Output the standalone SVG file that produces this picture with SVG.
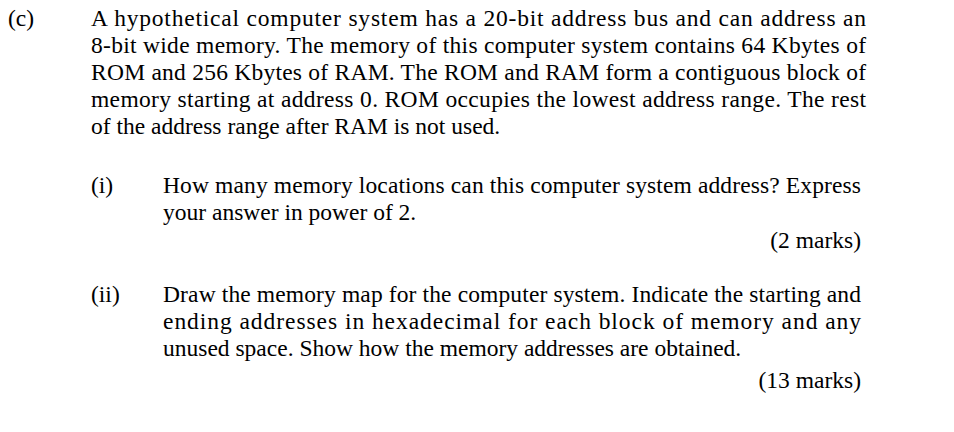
<svg xmlns="http://www.w3.org/2000/svg" width="954" height="432" viewBox="0 0 954 432">
<style>text{font-family:"Liberation Serif","Times New Roman",serif;font-size:23.5px;fill:#000}</style>
<rect width="954" height="432" fill="#fff"/>
<g id="c">
<text x="8" y="26">(c)</text>
<text x="91" y="26" textLength="775" lengthAdjust="spacing">A hypothetical computer system has a 20-bit address bus and can address an</text>
<text x="91" y="53" textLength="775" lengthAdjust="spacing">8-bit wide memory. The memory of this computer system contains 64 Kbytes of</text>
<text x="91" y="80" textLength="775" lengthAdjust="spacing">ROM and 256 Kbytes of RAM. The ROM and RAM form a contiguous block of</text>
<text x="91" y="107" textLength="775" lengthAdjust="spacing">memory starting at address 0. ROM occupies the lowest address range. The rest</text>
<text x="91" y="134">of the address range after RAM is not used.</text>
</g>
<g id="i">
<text x="91" y="193">(i)</text>
<text x="163" y="193" textLength="698" lengthAdjust="spacing">How many memory locations can this computer system address? Express</text>
<text x="163" y="220">your answer in power of 2.</text>
<text x="861" y="248" text-anchor="end">(2 marks)</text>
</g>
<g id="ii">
<text x="91" y="302">(ii)</text>
<text x="163" y="302" textLength="698" lengthAdjust="spacing">Draw the memory map for the computer system. Indicate the starting and</text>
<text x="163" y="329" textLength="698" lengthAdjust="spacing">ending addresses in hexadecimal for each block of memory and any</text>
<text x="163" y="356">unused space. Show how the memory addresses are obtained.</text>
<text x="861" y="388" text-anchor="end">(13 marks)</text>
</g>
</svg>
